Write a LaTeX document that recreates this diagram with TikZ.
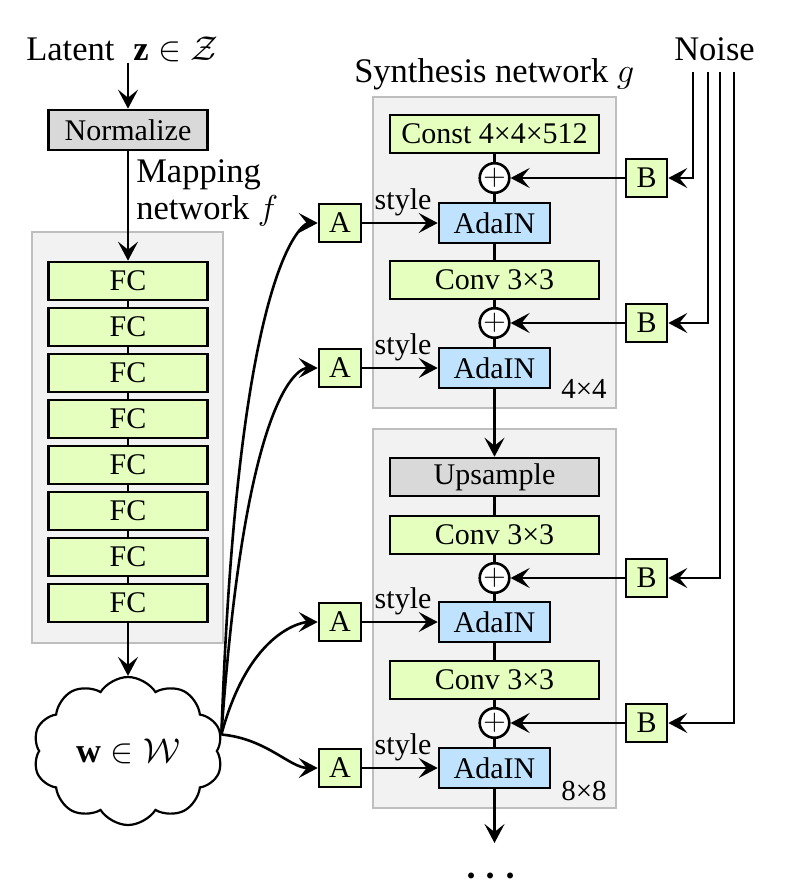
\RequirePackage{fix-cm}
\documentclass[tikz,border=0pt]{standalone}
\usepackage{amsmath, amssymb}
\usepackage{fontspec}
\setmainfont{Liberation Serif}
\usepackage{xcolor}
\usepackage{tikz}
\usetikzlibrary{shapes.symbols, arrows.meta}

\definecolor{boxgreen}{RGB}{229,255,191}
\definecolor{boxblue}{RGB}{191,227,255}
\definecolor{boxgray}{RGB}{217,217,217}
\definecolor{panelgray}{RGB}{242,242,242}
\definecolor{panelline}{RGB}{190,190,190}

\newcommand{\lbltxt}{\fontsize{34.5}{37}\selectfont}
\newcommand{\boxtxt}{\fontsize{30}{34}\selectfont}

\begin{document}
\begin{tikzpicture}[x=1pt, y=-1pt, line width=2.6pt,
		block/.style={draw, fill=boxgreen, minimum width=209pt, minimum height=38pt, inner sep=0pt, font=\boxtxt},
		fcbox/.style={block, minimum width=159pt},
		graybox/.style={block, fill=boxgray},
		adabox/.style={block, fill=boxblue, minimum width=111pt, minimum height=40pt},
		smallbox/.style={block, minimum width=42pt},
		addnode/.style={draw, circle, fill=white, minimum size=27pt, inner sep=0pt, font=\fontsize{31}{31}\selectfont},
		panel/.style={draw=panelline, fill=panelgray, line width=2pt},
		arr/.style={-{Stealth[length=19pt, width=20pt, inset=8pt]}},
		lbl/.style={font=\lbltxt, inner sep=0pt},
		reslbl/.style={font=\fontsize{29}{32}\selectfont, anchor=base east, inner sep=0pt},
		]
		\useasboundingbox (0,0) rectangle (797,886);
		% grey panels
		\path[panel] (32,232) rectangle (223,643);
		\path[panel] (373,97) rectangle (616,408);
		\path[panel] (373,429) rectangle (616,808);

		% mapping network
		\node[lbl, anchor=base west] (latent) at (25,60) {Latent\hspace{0.55em}$\mathbf{z}\in\mathcal{Z}$};
		\node[graybox, minimum width=159pt, minimum height=40pt] (norm) at (128,130) {Normalize};
		\node[lbl, anchor=north west, align=left] (maplbl) at (135,158) {Mapping\\network $f$};
		\foreach \i in {1,...,8}
			\node[fcbox] (fc\i) at (128,{235+46*\i}) {FC};
		\foreach \i [count=\j from 2] in {1,...,7}
			\draw (fc\i) -- (fc\j);
		\node[draw, cloud, cloud puffs=10, cloud puff arc=115, aspect=1.3, minimum width=190pt, minimum height=148pt, inner sep=0pt, fill=white, line width=2.2pt, font=\lbltxt] (w) at (128,751) {$\mathbf{w}\in\mathcal{W}$};
		\draw[arr] (latent.south -| norm.north) -- (norm.north);
		\draw[arr] (norm) -- (fc1);
		\draw[arr] (fc8) -- (w);

		% synthesis network
		\node[lbl, anchor=base west] (synlbl) at (353,82) {Synthesis network $g$};
		\node[lbl, anchor=base west] (noise) at (673,60) {Noise};

		\node[block] (const) at (494.5,134) {Const 4×4×512};
		\node[addnode] (add1) at (494.5,178) {$+$};
		\node[adabox] (ada1) at (494.5,223) {AdaIN};
		\node[block] (conv1) at (494.5,280) {Conv 3×3};
		\node[addnode] (add2) at (494.5,323) {$+$};
		\node[adabox] (ada2) at (494.5,368) {AdaIN};
		\node[reslbl] (res1) at (608,398) {4×4};

		\node[graybox] (up) at (494.5,477) {Upsample};
		\node[block] (conv2) at (494.5,535) {Conv 3×3};
		\node[addnode] (add3) at (494.5,578) {$+$};
		\node[adabox] (ada3) at (494.5,622) {AdaIN};
		\node[block] (conv3) at (494.5,680) {Conv 3×3};
		\node[addnode] (add4) at (494.5,723) {$+$};
		\node[adabox] (ada4) at (494.5,768) {AdaIN};
		\node[reslbl] (res2) at (608,800) {8×8};
		\coordinate (out) at (494.5,843);
		\node[font=\fontsize{38}{38}\selectfont, inner sep=0pt] (dots) at (494.5,876) {$\boldsymbol{\cdots}$};

		\draw (const) -- (add1) -- (ada1) -- (conv1) -- (add2) -- (ada2);
		\draw[arr] (ada2) -- (up);
		\draw (up) -- (conv2) -- (add3) -- (ada3) -- (conv3) -- (add4) -- (ada4);
		\draw[arr] (ada4) -- (out);

		% A and B boxes
		\node[smallbox] (a1) at (340,223) {A};
		\node[smallbox] (a2) at (340,368) {A};
		\node[smallbox] (a3) at (340,622) {A};
		\node[smallbox] (a4) at (340,768) {A};
		\node[smallbox, minimum width=41pt] (b1) at (646.5,178) {B};
		\node[smallbox, minimum width=41pt] (b2) at (646.5,323) {B};
		\node[smallbox, minimum width=41pt] (b3) at (646.5,578) {B};
		\node[smallbox, minimum width=41pt] (b4) at (646.5,723) {B};

		\foreach \i in {1,...,4}
			\draw[arr] (a\i) -- node[pos=1, anchor=south east, xshift=-5pt, yshift=6pt, inner sep=0pt, font=\boxtxt] (sty\i) {style} (ada\i);
		\foreach \i/\x in {1/693,2/708,3/720,4/734} {
			\coordinate (nz\i) at (\x,72);
			\draw[arr] (nz\i) |- (b\i);
			\draw[arr] (b\i) -- (add\i);
		}

		% w to A
		\draw[arr] (w.10) .. controls +(88:500pt) and +(180:30pt) .. (a1);
		\draw[arr] (w.10) .. controls +(86:380pt) and +(180:30pt) .. (a2);
		\draw[arr] (w.10) .. controls +(75:110pt) and +(180:35pt) .. (a3);
		\draw[arr] (w.10) .. controls +(-5:45pt) and +(180:50pt) .. (a4);
	\end{tikzpicture}
\end{document}
